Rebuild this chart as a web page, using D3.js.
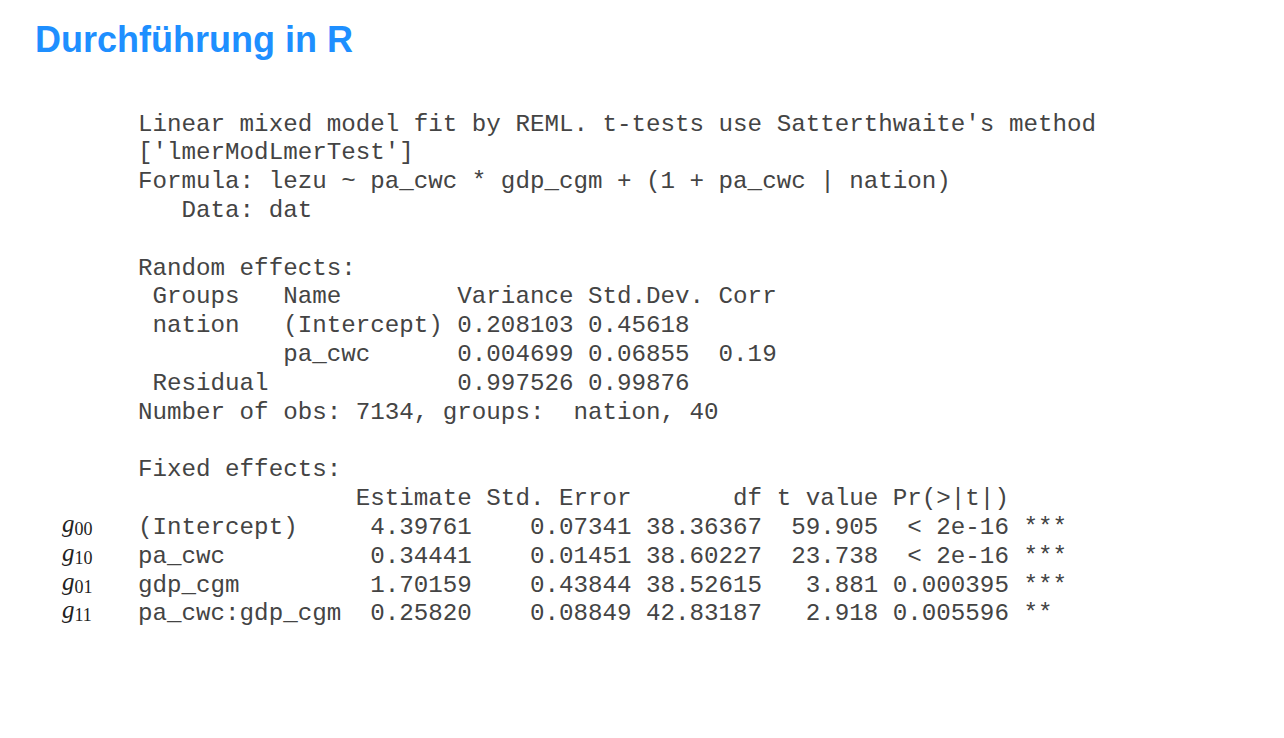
<!DOCTYPE html>
<html lang="de">
<head>
<meta charset="UTF-8">
<title>Durchführung in R</title>
<script src="https://d3js.org/d3.v7.min.js"></script>
<style>
  body { margin: 0; background: #fff; }
  svg { display: block; }
  .title { font-family: "Liberation Sans", Arial, sans-serif; font-weight: bold; font-size: 36px; fill: #1e8fff; }
  .out { font-family: "Liberation Mono", "Courier New", monospace; font-size: 24.2px; fill: #444; white-space: pre; }
  .coef { font-family: "Liberation Serif", "Times New Roman", serif; fill: #222; }
</style>
</head>
<body>
<svg id="chart"></svg>
<script>
// header of the lmer summary
const headerLines = [
  "Linear mixed model fit by REML. t-tests use Satterthwaite's method",
  "['lmerModLmerTest']",
  "Formula: lezu ~ pa_cwc * gdp_cgm + (1 + pa_cwc | nation)",
  "   Data: dat",
  ""
];

// random effects
const reGroups   = ["nation", "", "Residual"];
const reNames    = ["(Intercept)", "pa_cwc", ""];
const reVariance = ["0.208103", "0.004699", "0.997526"];
const reStdDev   = ["0.45618", "0.06855", "0.99876"];
const reCorr     = ["", "0.19", ""];
const nObs = 7134, nGroups = 40;

// fixed effects
const feTerms = ["(Intercept)", "pa_cwc", "gdp_cgm", "pa_cwc:gdp_cgm"];
const feEstimate = ["4.39761", "0.34441", "1.70159", "0.25820"];
const feStdErr   = ["0.07341", "0.01451", "0.43844", "0.08849"];
const feDf       = ["38.36367", "38.60227", "38.52615", "42.83187"];
const feT        = ["59.905", "23.738", "3.881", "2.918"];
const feP        = ["< 2e-16", "< 2e-16", "0.000395", "0.005596"];
const feStars    = ["***", "***", "***", "**"];
const feLabels   = ["00", "10", "01", "11"];

const pad = (s, n) => s.padEnd(n);
const lpad = (s, n) => s.padStart(n);

const lines = headerLines.slice();
lines.push("Random effects:");
lines.push(" Groups   Name        Variance Std.Dev. Corr");
reGroups.forEach((g, i) => {
  lines.push(" " + pad(g, 9) + pad(reNames[i], 12) + reVariance[i] + " " + pad(reStdDev[i], 9) + reCorr[i]);
});
lines.push(`Number of obs: ${nObs}, groups:  nation, ${nGroups}`);
lines.push("");
lines.push("Fixed effects:");
lines.push("               Estimate Std. Error       df t value Pr(>|t|)");
const feStart = lines.length;
feTerms.forEach((t, i) => {
  lines.push(pad(t, 14) + lpad(feEstimate[i], 9) + lpad(feStdErr[i], 11) + lpad(feDf[i], 9) +
    lpad(feT[i], 8) + lpad(feP[i], 9) + " " + feStars[i]);
});

const width = 1284, height = 738;
const svg = d3.select("#chart").attr("width", width).attr("height", height);

svg.append("text").attr("class", "title")
  .attr("x", 35).attr("y", 52)
  .text("Durchführung in R");

const y = d3.scaleLinear().domain([0, 1]).range([130.5, 130.5 + 28.82]);

svg.append("g").selectAll("text")
  .data(lines)
  .join("text")
  .attr("class", "out")
  .attr("x", 138)
  .attr("y", (d, i) => y(i))
  .attr("xml:space", "preserve")
  .text(d => d);

// coefficient symbols g_ij
const coef = svg.append("g").selectAll("text")
  .data(feLabels)
  .join("text")
  .attr("class", "coef")
  .attr("x", 62)
  .attr("y", (d, i) => y(feStart + i) - 2);
coef.append("tspan").attr("font-style", "italic").attr("font-size", 25).text("g");
coef.append("tspan").attr("font-size", 18).attr("dy", 3).text(d => d);
</script>
</body>
</html>
